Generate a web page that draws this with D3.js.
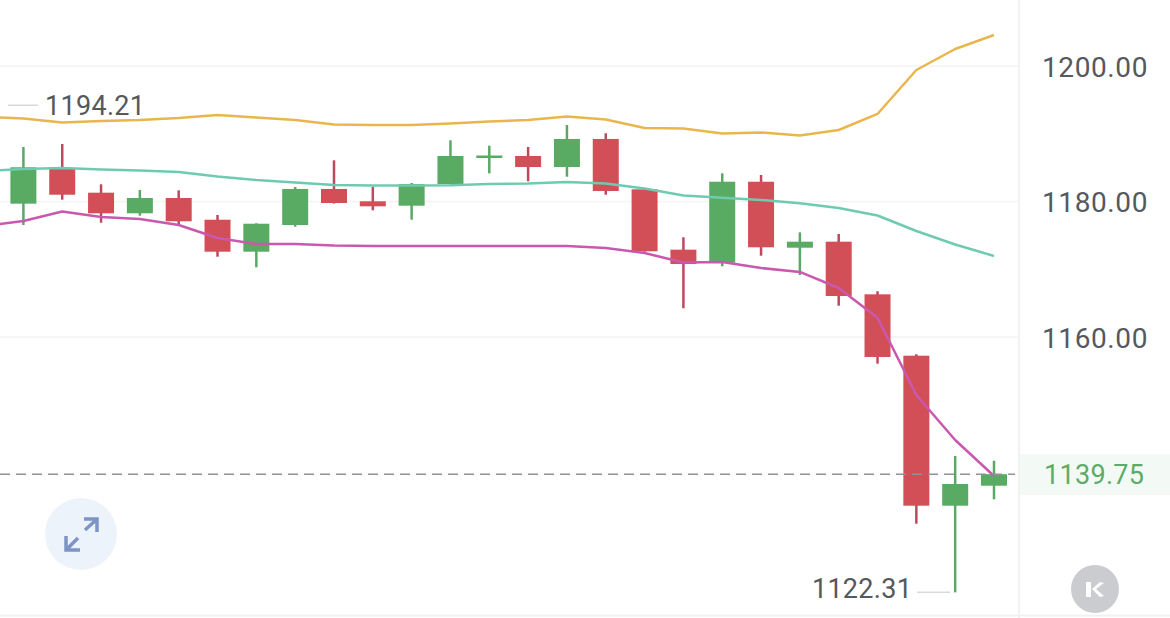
<!DOCTYPE html>
<html>
<head>
<meta charset="utf-8">
<script src="https://cdn.jsdelivr.net/npm/d3@7"></script>
<style>
	html, body { margin: 0; padding: 0; background: #fff; overflow: hidden; }
	svg { display: block; }
	text { font-family: Roboto, "Noto Sans", sans-serif; font-size: 27px; letter-spacing: 0.3px; fill: #55585d; }
</style>
</head>
<body>
<svg id="chart" width="1170" height="618"></svg>
<script>
//candles, in screen order
const opens = [1179.68,1184.80,1181.30,1178.26,1180.52,1177.31,1172.59,1176.53,1181.85,1180.03,1179.38,1182.58,1186.42,1186.72,1185.09,1189.23,1181.80,1172.89,1170.97,1182.92,1173.18,1174.07,1166.30,1157.24,1135.10,1138.05];
const closes = [1185.05,1181.00,1178.26,1180.52,1177.08,1172.59,1176.72,1181.85,1179.78,1179.29,1182.58,1186.72,1186.79,1185.09,1189.23,1181.55,1172.65,1170.77,1182.92,1173.24,1174.07,1166.05,1157.05,1135.10,1138.30,1139.75];
const highs = [1188.04,1188.49,1182.54,1181.70,1181.65,1178.01,1176.78,1182.14,1186.08,1182.18,1182.73,1189.03,1188.24,1188.04,1191.29,1190.07,1181.95,1174.72,1184.16,1183.91,1175.45,1175.20,1166.75,1157.45,1142.44,1141.74];
const lows = [1176.53,1180.27,1176.87,1177.90,1176.53,1171.85,1170.29,1176.28,1179.70,1178.70,1177.31,1182.50,1184.16,1182.98,1183.66,1181.00,1172.60,1164.24,1170.44,1172.00,1169.15,1164.62,1156.06,1132.44,1122.31,1136.04];

//bands start one candle before the visible ones
const upperBand = [1192.47,1192.25,1191.66,1191.88,1192.03,1192.32,1192.77,1192.40,1192.03,1191.37,1191.29,1191.29,1191.51,1191.81,1192.03,1192.55,1192.10,1190.85,1190.77,1190.04,1190.18,1189.74,1190.55,1192.92,1199.41,1202.51,1204.58];
const middleBand = [1184.50,1184.80,1184.94,1184.72,1184.58,1184.35,1183.69,1183.17,1182.80,1182.44,1182.36,1182.36,1182.39,1182.58,1182.66,1182.88,1182.66,1181.92,1180.89,1180.56,1180.22,1179.73,1179.04,1177.93,1175.65,1173.65,1171.96];
const lowerBand = [1176.38,1177.12,1178.52,1177.71,1177.42,1176.53,1174.61,1173.73,1173.73,1173.51,1173.43,1173.43,1173.43,1173.43,1173.43,1173.43,1173.14,1172.40,1171.00,1171.07,1170.18,1169.60,1167.23,1162.85,1151.44,1144.80,1139.48];

const tickPrices = [1160, 1180, 1200];
const lastPrice = 1139.75;
const maxPrice = 1194.21;
const minPrice = 1122.31;

const plotRight = 1019;
const priceFormat = d3.format('.2f');

const x = d3.scaleLinear().domain([0, 25]).range([23.4, 994]);
const y = d3.scaleLinear().domain([1160, 1200]).range([337, 66]);

const svg = d3.select('#chart');

//frame and grid
svg.append('line')
	.attr('x1', plotRight).attr('x2', plotRight)
	.attr('y1', 0).attr('y2', 618)
	.style('stroke', '#f2f2f3').style('stroke-width', 2);
svg.append('line')
	.attr('x1', 0).attr('x2', 1170)
	.attr('y1', 615.5).attr('y2', 615.5)
	.style('stroke', '#f2f2f3').style('stroke-width', 2);
svg.append('g')
	.selectAll('line')
	.data(tickPrices)
	.enter().append('line')
		.attr('x1', 0).attr('x2', plotRight)
		.attr('y1', function(d){ return y(d) }).attr('y2', function(d){ return y(d) })
		.style('stroke', '#f3f3f4').style('stroke-width', 1.5);

//last price tag sits under the axis labels
svg.append('rect')
	.attr('x', plotRight + 1).attr('width', 1170 - plotRight)
	.attr('y', y(lastPrice) - 20).attr('height', 41)
	.style('fill', '#f3faf5');

//candles
const candles = svg.append('g').attr('class', 'candles')
	.selectAll('g')
	.data(d3.range(opens.length))
	.enter().append('g')
		.each(function(i){
			const up = closes[i] >= opens[i];
			const g = d3.select(this);
			g.append('line')
				.attr('x1', x(i)).attr('x2', x(i))
				.attr('y1', y(highs[i])).attr('y2', y(lows[i]))
				.style('stroke', up ? '#5aa865' : '#bb4a5e')
				.style('stroke-width', 2.5);
			g.append('rect')
				.attr('x', x(i) - 13).attr('width', 26)
				.attr('y', y(Math.max(opens[i], closes[i])))
				.attr('height', Math.abs(y(opens[i]) - y(closes[i])))
				.style('fill', up ? '#59ab63' : '#d34f58');
		});

//bands
const bandLine = d3.line()
	.x(function(d, i){ return x(i - 1) })
	.y(function(d){ return y(d) });

svg.append('g').attr('class', 'bands')
	.selectAll('path')
	.data([
		{ values: upperBand, color: '#e9b64e' },
		{ values: middleBand, color: '#6fcbb0' },
		{ values: lowerBand, color: '#c958ae' }
	])
	.enter().append('path')
		.attr('d', function(d){ return bandLine(d.values) })
		.style('fill', 'none')
		.style('stroke', function(d){ return d.color })
		.style('stroke-linejoin', 'round')
		.style('stroke-width', 2.5);

//last price line
svg.append('line')
	.attr('x1', 0).attr('x2', 1015)
	.attr('y1', y(lastPrice)).attr('y2', y(lastPrice))
	.style('stroke', '#8f9296')
	.style('stroke-width', 1.5)
	.style('stroke-dasharray', '10 6');

//price axis
const axis = svg.append('g')
	.attr('transform', 'translate(' + plotRight + ',0)')
	.call(d3.axisRight(y).tickValues(tickPrices).tickFormat(priceFormat).tickSize(0).tickPadding(23));
axis.select('.domain').remove();
axis.selectAll('text')
	.attr('dy', '0.36em')
	.style('font-size', '28px')
	.style('letter-spacing', '0.6px')
	.style('font-family', 'Roboto, sans-serif')
	.style('fill', '#55585d');

svg.append('text')
	.attr('x', plotRight + 25).attr('y', y(lastPrice)).attr('dy', '0.36em')
	.style('fill', '#5cab69')
	.text(priceFormat(lastPrice));

//high and low markers
svg.append('line')
	.attr('x1', 8).attr('x2', 38)
	.attr('y1', y(maxPrice)).attr('y2', y(maxPrice))
	.style('stroke', '#d9d9dc').style('stroke-width', 1.5);
svg.append('text')
	.attr('x', 45).attr('y', y(maxPrice)).attr('dy', '0.36em')
	.text(priceFormat(maxPrice));

svg.append('line')
	.attr('x1', x(24) - 38).attr('x2', x(24) - 5)
	.attr('y1', y(minPrice)).attr('y2', y(minPrice))
	.style('stroke', '#d9d9dc').style('stroke-width', 1.5);
svg.append('text')
	.attr('x', x(24) - 43).attr('y', y(minPrice)).attr('dy', '0.22em')
	.style('text-anchor', 'end')
	.text(priceFormat(minPrice));

//expand button
const expand = svg.append('g').attr('transform', 'translate(81,534)');
expand.append('circle').attr('r', 36).style('fill', '#edf3fb');
expand.append('path')
	.attr('d', 'M-14,15 L-3,4 M-15,2 L-15,16 L-1,16 M4,-4 L15,-14 M3,-15 L16,-15 L16,-2')
	.style('fill', 'none')
	.style('stroke', '#7c95c6')
	.style('stroke-width', 3.5);

//k-line button
const kButton = svg.append('g').attr('transform', 'translate(1095,589)');
kButton.append('circle').attr('r', 24).style('fill', '#cbccd0');
kButton.append('path')
	.attr('d', 'M-9,-7 L-4,-7 L-4,8 L-9,8 Z M9,-6 L1,0 L9,7 L5,8 L-3,0 L5,-7 Z')
	.style('fill', '#fff');
</script>
</body>
</html>
